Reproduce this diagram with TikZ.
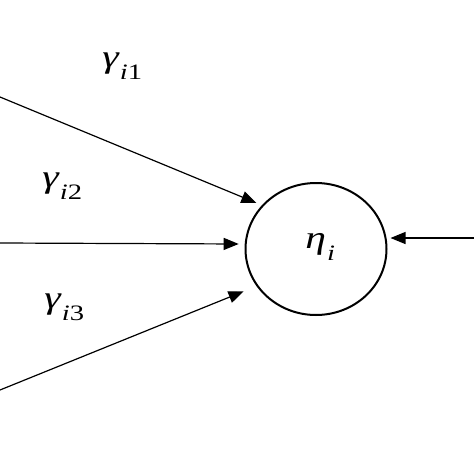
\documentclass[tikz,border=0pt]{standalone}
\usepackage{fontspec}
\setmainfont{Liberation Serif}
\usetikzlibrary{arrows.meta,shapes,positioning}
\newcommand{\symlbl}[2]{{\itshape #1}\kern1pt\raisebox{-12pt}{\fontsize{22}{24}\selectfont #2}}
\begin{document}
\begin{tikzpicture}[x=1pt, y=-1pt]
                \tikzstyle{latent} = [ellipse, draw, line width=2pt,
                minimum width=141pt, minimum height=132pt, inner sep=0pt]
                \tikzstyle{arrow} = [line width=1.2pt,-{Triangle[length=15pt,width=12pt]}]
                \tikzstyle{lbl} = [font=\fontsize{32}{36}\selectfont, inner sep=0pt,
                anchor=base west, xscale=1.3]

                \useasboundingbox (0,0) rectangle (474,474);

                \node [latent] (eta) at (316,249) {};
                \node [lbl] (etalbl) at (305,248) {\symlbl{η}{\itshape i}};
                \node [lbl] (g1) at (102,67) {\symlbl{γ}{\itshape i\upshape 1}};
                \node [lbl] (g2) at (42,187) {\symlbl{γ}{\itshape i\upshape 2}};
                \node [lbl] (g3) at (44,308) {\symlbl{γ}{\itshape i\upshape 3}};

                \coordinate (in1) at (0,97);
                \coordinate (in2) at (0,243);
                \coordinate (in3) at (0,390);
                \coordinate (out) at (474,238);

                \draw [arrow, shorten >=6pt] (in1) -- (eta.141);
                \draw [arrow, shorten >=6pt] (in2) -- (eta.176);
                \draw [arrow, shorten >=14pt] (in3) -- (eta.212);
                \draw [arrow, shorten >=3pt] (out) -- (out -| eta.east);
            \end{tikzpicture}
\end{document}
